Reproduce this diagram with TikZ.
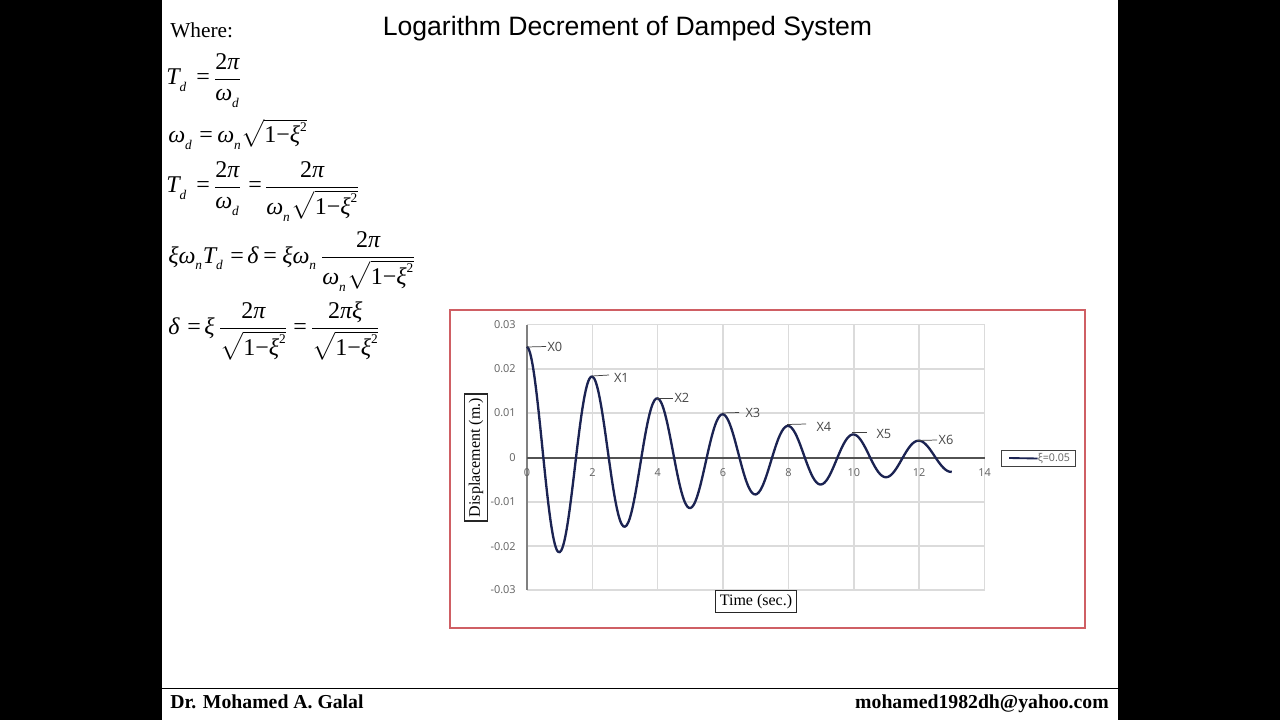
\documentclass[tikz,border=0pt]{standalone}
\usepackage{amsmath}
\usepackage{fontspec}
\setmainfont{Liberation Serif}
\newfontfamily\sansf{Liberation Sans}
\newfontfamily\chartf{Open Sans}
\newcommand{\mi}[1]{\text{\itshape #1}}
\newcommand{\mn}[1]{\text{#1}}
\newcommand{\om}{\mi{ω}}
\newcommand{\xii}{\mi{ξ}}
\newcommand{\twopi}{\mn{2}\mi{π}}
\newcommand{\sbb}[1]{_{\raisebox{-2.5pt}{\fontsize{10pt}{12pt}\selectfont\itshape #1}}}
\newcommand{\rt}{\sqrt{\mn{1}\mn{−}\xii^{\raisebox{1pt}{\fontsize{10pt}{12pt}\selectfont 2}}}}
\newcommand{\pc}[4]{\node[eqn] (#1) at (#2,#3+6) {$\nulldelimiterspace=0pt\displaystyle #4$};}
\tikzset{
  eqn/.style={anchor=base west,inner sep=0pt,font=\fontsize{18pt}{20pt}\selectfont},
  tick/.style={inner sep=0pt,text=black!62,font=\chartf\fontsize{8.2pt}{10pt}\selectfont},
  ylab/.style={tick,anchor=east},
  xlab/.style={tick},
  dlab/.style={inner sep=1pt,text=black!72,font=\chartf\fontsize{9.6pt}{11pt}\selectfont},
  leader/.style={draw=black!75,line width=0.55pt},
  gridl/.style={draw=black!14,line width=1.1pt},
  titlebox/.style={draw=black!85,line width=0.9pt,fill=white,inner sep=3pt,font=\fontsize{12pt}{14pt}\selectfont},
  foot/.style={inner sep=0pt,font=\bfseries\fontsize{14.8pt}{17pt}\selectfont}
}
\definecolor{framered}{HTML}{CF5F64}
\definecolor{curve}{HTML}{1B2352}
\begin{document}
\begin{tikzpicture}[x=0.75pt,y=-0.75pt]
\useasboundingbox (0,0) rectangle (1280,720);
\fill[black] (0,0) rectangle (1280,720);
\fill[white] (162,0) rectangle (1118,720);
% title
\node[anchor=base,inner sep=0pt,font=\sansf\fontsize{19.95pt}{24pt}\selectfont] (title) at (627.5,36) {Logarithm Decrement of Damped System};
\node[anchor=base west,inner sep=0pt,font=\fontsize{16pt}{20pt}\selectfont] (where) at (170,38) {Where:};
% equation 1
\pc{a1}{166}{79}{\mi{T}\sbb{d}}
\pc{a2}{196}{79}{\mn{=}}
\pc{a3}{215}{79}{\frac{\twopi}{\om\sbb{d}}}
% equation 2
\pc{b1}{168}{137}{\om\sbb{d}}
\pc{b2}{199}{137}{\mn{=}}
\pc{b3}{217}{137}{\om\sbb{n}}
\pc{b4}{241}{137}{\textstyle\rt}
% equation 3
\pc{c1}{166}{187}{\mi{T}\sbb{d}}
\pc{c2}{196}{187}{\mn{=}}
\pc{c3}{215}{187}{\frac{\twopi}{\om\sbb{d}}}
\pc{c4}{248}{187}{\mn{=}}
\pc{c5}{266}{187}{\frac{\twopi}{\om\sbb{n}\mkern1mu\rt}}
% equation 4
\pc{d1}{168}{257}{\xii\om\sbb{n}\mi{T}\sbb{d}}
\pc{d2}{230}{257}{\mn{=}}
\pc{d3}{247}{257}{\mi{δ}}
\pc{d4}{263}{257}{\mn{=}}
\pc{d5}{282}{257}{\xii\om\sbb{n}}
\pc{d6}{322}{257}{\frac{\twopi}{\om\sbb{n}\mkern1mu\rt}}
% equation 5
\pc{f1}{168}{328}{\mi{δ}}
\pc{f2}{187}{328}{\mn{=}}
\pc{f3}{204}{328}{\xii}
\pc{f4}{220}{328}{\frac{\twopi}{\rt}}
\pc{f5}{293}{328}{\mn{=}}
\pc{f6}{312}{328}{\frac{\twopi\xii}{\rt}}
% frame
\draw[framered,line width=1.5pt] (449.5,310) rectangle (1085,628);
% grid
\foreach \v in {324.5,368.8,413.1,501.9,546.2,590}
  \draw[gridl] (527,\v) -- (984.5,\v);
\foreach \v in {592.4,657.7,723.1,788.4,853.8,919.2,984.5}
  \draw[gridl] (\v,324.5) -- (\v,590);
\draw[draw=black!50,line width=1.5pt] (527,324.5) -- (527,590);
\draw[draw=black!68,line width=1.5pt] (527,457.5) -- (984.5,457.5);
% tick labels
\node[ylab] (y1) at (516,324.5) {0.03};
\node[ylab] (y2) at (516,368.8) {0.02};
\node[ylab] (y3) at (516,413.1) {0.01};
\node[ylab] (y4) at (516,457.5) {0};
\node[ylab] (y5) at (516,501.9) {-0.01};
\node[ylab] (y6) at (516,546.2) {-0.02};
\node[ylab] (y7) at (516,590) {-0.03};
\node[xlab] (t0) at (527,473) {0};
\node[xlab] (t2) at (592.4,473) {2};
\node[xlab] (t4) at (657.7,473) {4};
\node[xlab] (t6) at (723.1,473) {6};
\node[xlab] (t8) at (788.4,473) {8};
\node[xlab] (t10) at (853.8,473) {10};
\node[xlab] (t12) at (919.2,473) {12};
\node[xlab] (t14) at (984.5,473) {14};
% curve
\draw[curve,line width=1.75pt,line join=round] plot[smooth,samples=261,domain=0:13]
  ({527+32.68*\x},{457.5-4433*0.025*exp(-0.157*\x)*cos(180*\x)});
% data labels
\node[dlab,anchor=west] (x0) at (546,346.5) {X0};
\node[dlab,anchor=west] (x1) at (612.5,378) {X1};
\node[dlab,anchor=west] (x2) at (673,398) {X2};
\node[dlab,anchor=west] (x3) at (744,413) {X3};
\node[dlab,anchor=west] (x4) at (815,427) {X4};
\node[dlab,anchor=west] (x5) at (875,434) {X5};
\node[dlab,anchor=west] (x6) at (937,440) {X6};
\coordinate (p0) at (527,347);
\coordinate (p1) at (592,376);
\coordinate (p2) at (657,398);
\coordinate (p3) at (722,413);
\coordinate (p4) at (787,424.5);
\coordinate (p5) at (852,432.5);
\coordinate (p6) at (917,440.5);
\coordinate (q1) at (609,375);
\coordinate (q3) at (739,412.5);
\coordinate (q4) at (806,424);
\coordinate (q5) at (867,432.5);
\draw[leader] (p0) -- (x0.west);
\draw[leader] (p1) -- (q1);
\draw[leader] (p2) -- (x2.west);
\draw[leader] (p3) -- (q3);
\draw[leader] (p4) -- (q4);
\draw[leader] (p5) -- (q5);
\draw[leader] (p6) -- (x6.west);
% axis titles
\node[titlebox,rotate=90] (ytitle) at (476,457.5) {Displacement (m.)};
\node[titlebox] (xtitle) at (756,601.5) {Time (sec.)};
% legend
\node[draw=black!75,line width=0.7pt,minimum width=55.5pt,minimum height=12pt,inner sep=0pt] (legend) at (1038,458) {};
\node[inner sep=0pt,anchor=west,text=black!62,font=\chartf\fontsize{8pt}{9pt}\selectfont] (legtext) at (1037.5,458.5) {ξ=0.05};
\coordinate (legstart) at (1009,458);
\draw[curve,line width=1.4pt] (legstart) -- (legtext.west);
% footer
\draw[black,line width=0.6pt] (162,688) -- (1118,688);
\node[foot,anchor=base west] (author) at (170,708) {Dr. Mohamed A. Galal};
\node[foot,anchor=base east] (mail) at (1109,708) {mohamed1982dh@yahoo.com};
\end{tikzpicture}
\end{document}
